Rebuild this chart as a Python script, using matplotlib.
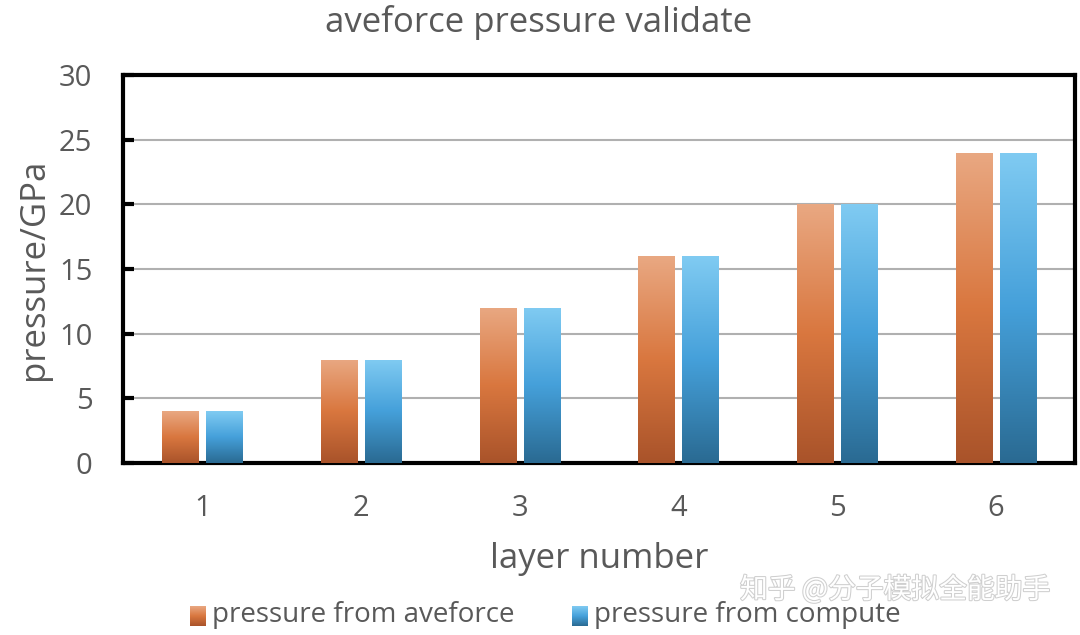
import numpy as np
import matplotlib.pyplot as plt
from matplotlib.colors import LinearSegmentedColormap
import matplotlib.patheffects as pe

layers = ['1', '2', '3', '4', '5', '6']
aveforce = [4, 8, 12, 16, 20, 24]
compute = [4, 8, 12, 16, 20, 24]

plt.rcParams['font.family'] = ['Open Sans', 'Noto Sans CJK SC', 'DejaVu Sans']
grey = '#595959'

orange_cm = LinearSegmentedColormap.from_list('o', ['#A9532A', '#D9773F', '#E9A882'])
blue_cm = LinearSegmentedColormap.from_list('b', ['#2A6A92', '#45A0DA', '#80CBF2'])

fig = plt.figure(figsize=(10.8, 6.35), dpi=100)
ax = fig.add_axes([123/1080, 1-463/635, (1075-123)/1080, (463-75)/635])

x = np.arange(len(layers))
w = 0.227
off = 0.139
grad = np.linspace(0, 1, 256).reshape(-1, 1)

def gbar(xs, vals, cmap, label):
    bars = ax.bar(xs, vals, width=w, color='none', edgecolor='none', label=label, zorder=3)
    for b in bars:
        x0 = b.get_x()
        im = ax.imshow(grad, cmap=cmap, origin='lower', aspect='auto',
                       extent=[x0, x0 + b.get_width(), 0, b.get_height()], zorder=3)
        im.set_clip_path(b)
    return bars

gbar(x - off, aveforce, orange_cm, 'pressure from aveforce')
gbar(x + off, compute, blue_cm, 'pressure from compute')

ax.set_xlim(-0.5, len(layers) - 0.5)
ax.set_ylim(0, 30)
ax.set_yticks(range(0, 31, 5))
ax.set_xticks(x)
ax.set_xticklabels(layers)
ax.grid(axis='y', color='#B0B0B0', linewidth=1.5, zorder=0)
ax.set_axisbelow(True)
for s in ax.spines.values():
    s.set_linewidth(3)
    s.set_color('black')
ax.tick_params(axis='y', direction='in', length=8, width=3, labelsize=21, labelcolor=grey, pad=22)
ax.tick_params(axis='x', length=0, labelsize=21, labelcolor=grey, pad=22)

ax.set_xlabel('layer number', fontsize=25, color=grey, labelpad=14)
ax.set_ylabel('pressure/GPa', fontsize=25, color=grey, labelpad=6)
fig.text(539/1080, 1-22/635, 'aveforce pressure validate', ha='center', va='center', fontsize=25, color=grey)

# legend with gradient squares
leg_items = [(190, 'pressure from aveforce', orange_cm), (572, 'pressure from compute', blue_cm)]
for px, txt, cm in leg_items:
    lax = fig.add_axes([px/1080, 1-626/635, 16/1080, 20/635])
    lax.imshow(grad, cmap=cm, origin='lower', aspect='auto')
    lax.axis('off')
    fig.text((px+22)/1080, 1-615/635, txt, ha='left', va='center', fontsize=20, color=grey)

fig.text(1050/1080, 1-590/635, '知乎 @分子模拟全能助手', ha='right', va='center', fontsize=20,
         color='white', family=['Noto Sans CJK SC', 'DejaVu Sans'],
         path_effects=[pe.withStroke(linewidth=1.5, foreground='#CFCFCF')], zorder=10)

fig.savefig('out.png', dpi=100)
